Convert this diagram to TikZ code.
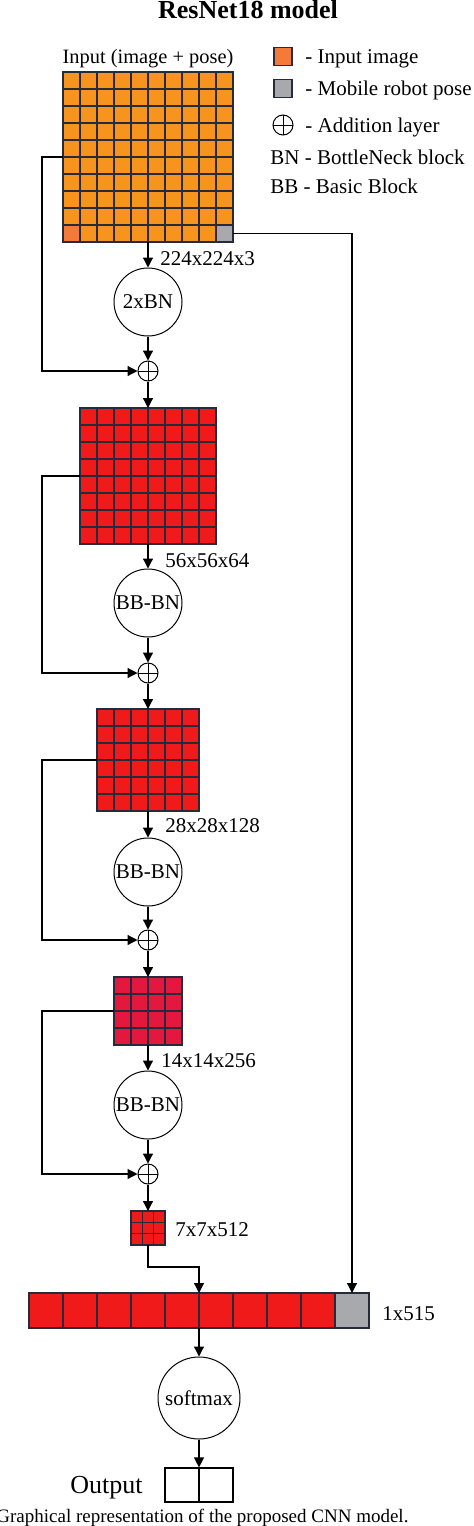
\documentclass[tikz,border=0pt]{standalone}
\usepackage{fontspec}
\setmainfont{Liberation Serif}
\usetikzlibrary{arrows.meta,calc}

\definecolor{maporange}{HTML}{F7941D}
\definecolor{imgorange}{HTML}{F47A3A}
\definecolor{posegray}{HTML}{A7A9AC}
\definecolor{mapred}{HTML}{F01A1A}
\definecolor{mapcrimson}{HTML}{E4173F}
\definecolor{gridline}{HTML}{262A3A}

\tikzset{
  fmap/.style={draw=gridline, line width=0.7pt, inner sep=0pt, outer sep=0pt},
  mesh/.style={draw=gridline, line width=0.7pt},
  cell/.style={draw=gridline, line width=0.7pt, inner sep=0pt, outer sep=0pt, minimum size=8.5pt},
  block/.style={circle, draw, line width=0.5pt, inner sep=0pt, minimum size=34pt,
    font=\fontsize{10.5}{12}\selectfont},
  adder/.style={circle, draw, line width=0.5pt, inner sep=0pt, minimum size=10pt,
    path picture={\draw[line width=0.5pt]
      (path picture bounding box.north) -- (path picture bounding box.south)
      (path picture bounding box.west) -- (path picture bounding box.east);}},
  lbl/.style={anchor=base west, inner sep=0pt, font=\fontsize{10.5}{12}\selectfont},
  conn/.style={-{Triangle[length=5pt,width=5pt]}, line width=0.6pt},
}

% feature map: name, centre, cells per side, cell size (px), colour
\newcommand{\featmap}[5]{%
  \node[fmap, fill=#5, minimum size=#3*#4*0.5pt] (#1) at (#2) {};
  \foreach \k in {1,...,#3} {
    \draw[mesh] ($(#1.north west)+(\k*#4,0)$) -- ($(#1.south west)+(\k*#4,0)$);
    \draw[mesh] ($(#1.north west)+(0,\k*#4)$) -- ($(#1.north east)+(0,\k*#4)$);
  }
}

\begin{document}
\begin{tikzpicture}[x=0.5pt,y=-0.5pt]
	\useasboundingbox (0,0) rectangle (474,1526);
	\coordinate (skip) at (42,0);

	\node[anchor=base, inner sep=0pt, font=\fontsize{13}{15}\selectfont\bfseries] (title) at (248,18) {ResNet18 model};
	\node[anchor=base, inner sep=0pt, font=\fontsize{10.2}{12}\selectfont] (intext) at (148,63) {Input (image + pose)};

	% legend
	\node[cell, fill=imgorange, minimum size=9pt] (lgimg) at (283,56.5) {};
	\node[lbl] (lgimgt) at (305,63) {- Input image};
	\node[cell, fill=posegray, minimum size=9pt] (lgpose) at (283,88.5) {};
	\node[lbl] (lgposet) at (305,95) {- Mobile robot pose};
	\node[adder] (lgadd) at (283,125) {};
	\node[lbl] (lgaddt) at (305,132) {- Addition layer};
	\node[lbl] (lgbn) at (270,164) {BN - BottleNeck block};
	\node[lbl] (lgbb) at (270,193) {BB - Basic Block};

	% input
	\node[fmap, fill=maporange, minimum size=85pt] (in) at (148,157) {};
	\node[cell, fill=imgorange] (img) at (71.5,233.5) {};
	\node[cell, fill=posegray] (pose) at (224.5,233.5) {};
	\foreach \k in {1,...,9} {
		\draw[mesh] ($(in.north west)+(\k*17,0)$) -- ($(in.south west)+(\k*17,0)$);
		\draw[mesh] ($(in.north west)+(0,\k*17)$) -- ($(in.north east)+(0,\k*17)$);
	}
	\node[lbl] (s0) at (160,265) {224x224x3};
	\node[block] (bn1) at (148,302) {2xBN};
	\node[adder] (add1) at (148,371) {};

	\featmap{f1}{148,476}{8}{17}{mapred}
	\node[lbl] (s1) at (165,567) {56x56x64};
	\node[block] (bb1) at (148,603) {BB-BN};
	\node[adder] (add2) at (148,673) {};

	\featmap{f2}{148,760}{6}{17}{mapred}
	\node[lbl] (s2) at (165,832) {28x28x128};
	\node[block] (bb2) at (148,872) {BB-BN};
	\node[adder] (add3) at (148,940) {};

	\featmap{f3}{148,1011}{4}{17}{mapcrimson}
	\node[lbl] (s3) at (161,1067) {14x14x256};
	\node[block] (bb3) at (148,1105) {BB-BN};
	\node[adder] (add4) at (148,1174) {};

	\featmap{f4}{148,1228}{3}{11.33}{mapred}
	\node[lbl] (s4) at (175,1236) {7x7x512};

	% flattened vector
	\node[fmap, fill=mapred, minimum width=170pt, minimum height=17.5pt] (vec) at (199,1310.5) {};
	\node[fmap, fill=posegray, minimum width=17pt, minimum height=17.5pt, anchor=east] (vpose) at (vec.east) {};
	\foreach \k in {1,...,9}
		\draw[mesh] ($(vec.north west)+(\k*34,0)$) -- ($(vec.south west)+(\k*34,0)$);
	\node[lbl] (s5) at (382,1320) {1x515};

	\node[block, minimum size=41pt] (sm) at (199,1398) {softmax};
	\node[draw, line width=0.6pt, inner sep=0pt, minimum width=34pt, minimum height=17pt] (out) at (199,1485) {};
	\draw[line width=0.6pt] (out.north) -- (out.south);
	\node[anchor=base west, inner sep=0pt, font=\fontsize{13}{15}\selectfont] (outtext) at (70,1493) {Output};
	\node[anchor=base west, inner sep=0pt, font=\fontsize{9.5}{11}\selectfont] (caption) at (-4,1522) {Graphical representation of the proposed CNN model.};

	% connectors
	\draw[conn] (in) -- (bn1);
	\draw[conn] (bn1) -- (add1);
	\draw[conn] (in.west) -- (in.west -| skip) |- (add1.west);
	\draw[conn] (add1) -- (f1);
	\draw[conn] (f1) -- (bb1);
	\draw[conn] (bb1) -- (add2);
	\draw[conn] (f1.west) -- (f1.west -| skip) |- (add2.west);
	\draw[conn] (add2) -- (f2);
	\draw[conn] (f2) -- (bb2);
	\draw[conn] (bb2) -- (add3);
	\draw[conn] (f2.west) -- (f2.west -| skip) |- (add3.west);
	\draw[conn] (add3) -- (f3);
	\draw[conn] (f3) -- (bb3);
	\draw[conn] (bb3) -- (add4);
	\draw[conn] (f3.west) -- (f3.west -| skip) |- (add4.west);
	\draw[conn] (add4) -- (f4);
	\draw[conn] (f4.south) -- ++(0,22) -| (vec.north);
	\draw[conn] (pose.east) -| (vpose.north);
	\draw[conn] (vec) -- (sm);
	\draw[conn] (sm) -- (out);
\end{tikzpicture}
\end{document}
